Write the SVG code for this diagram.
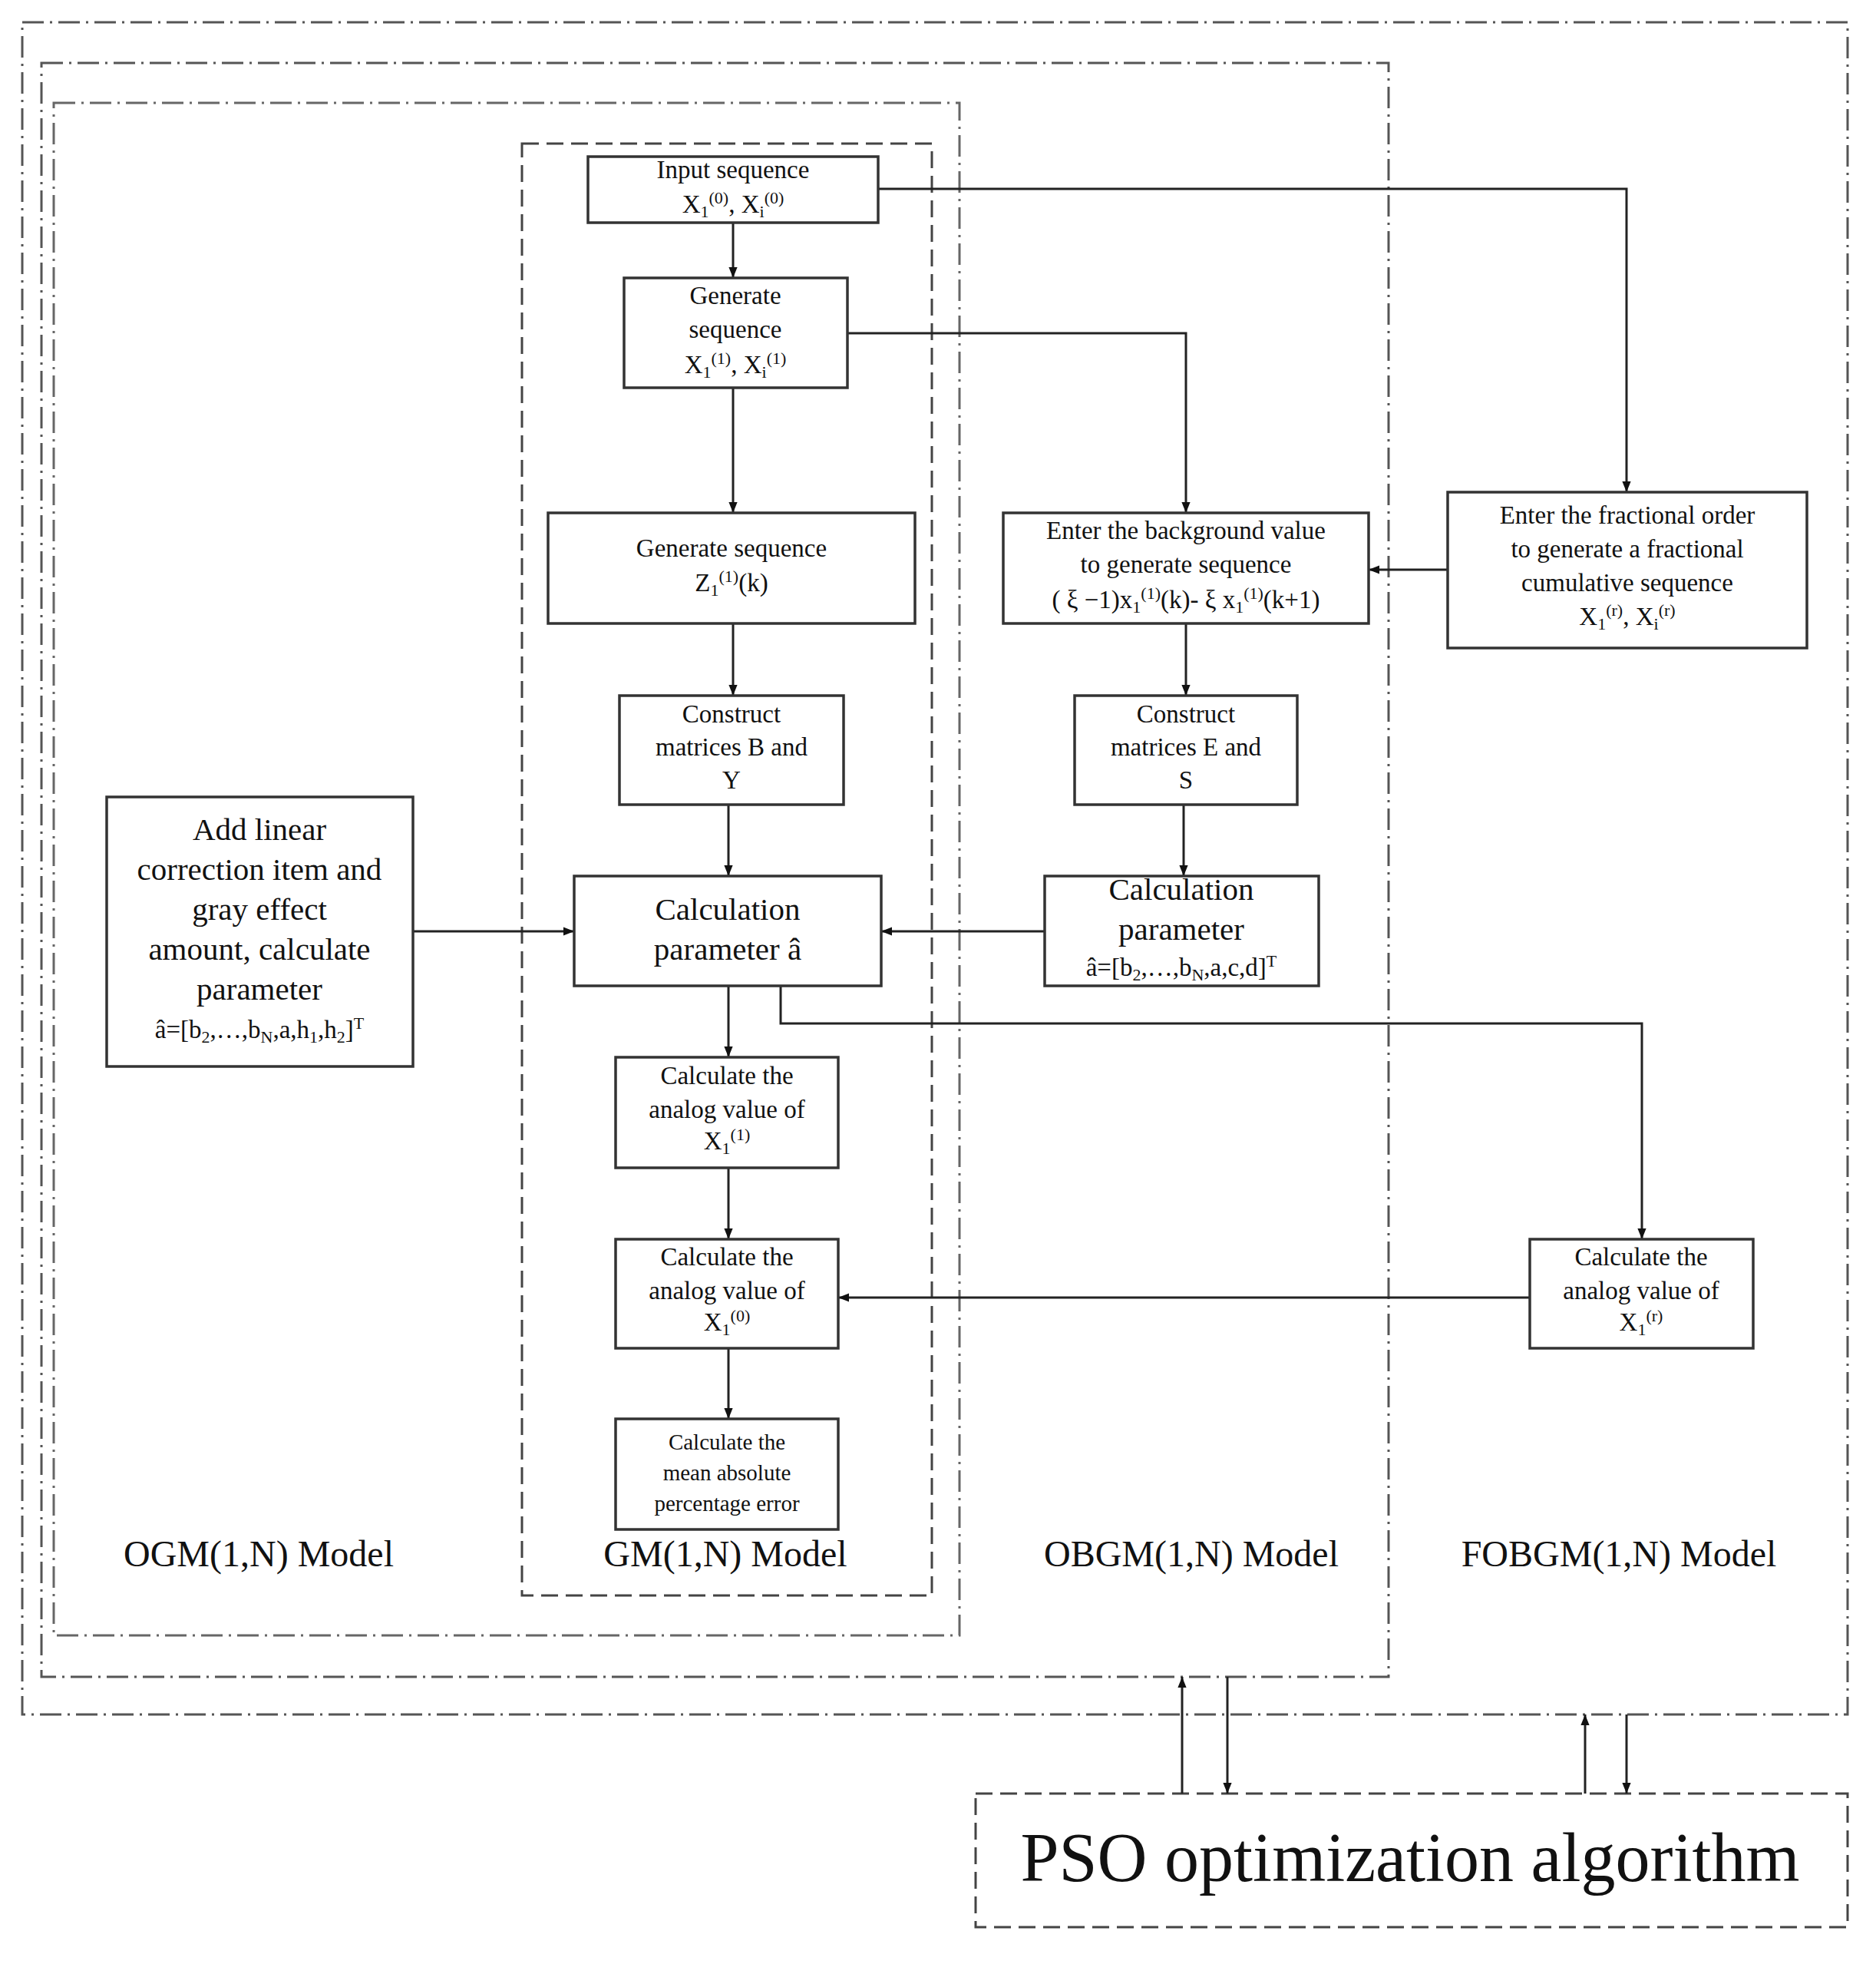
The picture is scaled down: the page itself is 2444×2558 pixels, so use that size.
<svg xmlns="http://www.w3.org/2000/svg" width="2444" height="2558" viewBox="0 0 2444 2558">
<style>
.n{fill:#fff;stroke:#333;stroke-width:3.5}
.t{font-family:"Liberation Serif",serif;font-size:33px;fill:#111;text-anchor:middle}
.b{font-size:41px}
.s{font-size:22px}
.f{fill:none;stroke-width:3}
.c{fill:none;stroke:#222;stroke-width:3}
.lab{font-family:"Liberation Serif",serif;font-size:48px;fill:#111;text-anchor:middle}
</style>
<defs><marker id="a" viewBox="0 0 10 10" refX="10" refY="5" markerWidth="7" markerHeight="7" markerUnits="userSpaceOnUse" orient="auto"><path d="M0,0L10,5L0,10z" fill="#111"/></marker>
<marker id="h" viewBox="0 0 10 10" refX="10" refY="5" markerWidth="14" markerHeight="14" orient="auto" markerUnits="userSpaceOnUse"><path d="M0,1L10,5L0,9z" fill="#111"/></marker></defs>
<g id="frames">
<rect x="29" y="29" width="2378" height="2204" class="f" stroke="#555" stroke-dasharray="28 8 3 8"/>
<rect x="54" y="82" width="1755" height="2102" class="f" stroke="#555" stroke-dasharray="28 8 3 8"/>
<rect x="70" y="134" width="1180" height="1996" class="f" stroke="#666" stroke-dasharray="28 8 3 8"/>
<rect x="680" y="187" width="534" height="1891" class="f" stroke="#444" stroke-dasharray="22 10"/>
<rect x="1271" y="2336" width="1136" height="174" class="f" stroke="#444" stroke-dasharray="22 10"/>
</g>
<g id="labels">
<text class="lab" x="337" y="2040">OGM(1,N) Model</text>
<text class="lab" x="945" y="2040">GM(1,N) Model</text>
<text class="lab" x="1552" y="2040">OBGM(1,N) Model</text>
<text class="lab" x="2109" y="2040">FOBGM(1,N) Model</text>
<text class="lab" x="1837" y="2450" style="font-size:90px">PSO optimization algorithm</text>
</g>
<g id="connectors">
<path class="c" d="M955,290V362" marker-end="url(#h)"/>
<path class="c" d="M955,505V668" marker-end="url(#h)"/>
<path class="c" d="M1144,246H2119V641" marker-end="url(#h)"/>
<path class="c" d="M1104,434H1545V668" marker-end="url(#h)"/>
<path class="c" d="M1886,742H1783" marker-end="url(#h)"/>
<path class="c" d="M1545,812V906" marker-end="url(#h)"/>
<path class="c" d="M1542,1048V1141" marker-end="url(#h)"/>
<path class="c" d="M1361,1213H1148" marker-end="url(#h)"/>
<path class="c" d="M538,1213H748" marker-end="url(#h)"/>
<path class="c" d="M955,812V906" marker-end="url(#h)"/>
<path class="c" d="M949,1048V1141" marker-end="url(#h)"/>
<path class="c" d="M949,1284V1377" marker-end="url(#h)"/>
<path class="c" d="M1017,1284V1333H2139V1614" marker-end="url(#h)"/>
<path class="c" d="M1993,1690H1092" marker-end="url(#h)"/>
<path class="c" d="M949,1521V1614" marker-end="url(#h)"/>
<path class="c" d="M949,1756V1848" marker-end="url(#h)"/>
<path class="c" d="M1540,2336V2184" marker-end="url(#h)"/>
<path class="c" d="M1599,2184V2336" marker-end="url(#h)"/>
<path class="c" d="M2065,2336V2233" marker-end="url(#h)"/>
<path class="c" d="M2119,2233V2336" marker-end="url(#h)"/>
</g>
<g id="input"><rect class="n" x="766" y="204" width="378" height="86"/>
<text class="t" x="955" y="232">Input sequence</text>
<text class="t" x="955" y="277">X<tspan class="s" dy="6">1</tspan><tspan class="s" dy="-18">(0)</tspan><tspan dy="12">, X</tspan><tspan class="s" dy="6">i</tspan><tspan class="s" dy="-18">(0)</tspan></text></g>
<g id="gen1"><rect class="n" x="813" y="362" width="291" height="143"/>
<text class="t" x="958" y="396">Generate</text><text class="t" x="958" y="440">sequence</text>
<text class="t" x="958" y="486">X<tspan class="s" dy="6">1</tspan><tspan class="s" dy="-18">(1)</tspan><tspan dy="12">, X</tspan><tspan class="s" dy="6">i</tspan><tspan class="s" dy="-18">(1)</tspan></text></g>
<g id="genz"><rect class="n" x="714" y="668" width="478" height="144"/>
<text class="t" x="953" y="725">Generate sequence</text>
<text class="t" x="953" y="770">Z<tspan class="s" dy="6">1</tspan><tspan class="s" dy="-18">(1)</tspan><tspan dy="12">(k)</tspan></text></g>
<g id="consb"><rect class="n" x="807" y="906" width="292" height="142"/>
<text class="t" x="953" y="941">Construct</text><text class="t" x="953" y="984">matrices B and</text><text class="t" x="953" y="1027">Y</text></g>
<g id="calca"><rect class="n" x="748" y="1141" width="400" height="143"/>
<text class="t b" x="948" y="1198">Calculation</text><text class="t b" x="948" y="1250">parameter â</text></g>
<g id="calc1"><rect class="n" x="802" y="1377" width="290" height="144"/>
<text class="t" x="947" y="1412">Calculate the</text><text class="t" x="947" y="1456">analog value of</text>
<text class="t" x="947" y="1497">X<tspan class="s" dy="6">1</tspan><tspan class="s" dy="-18">(1)</tspan></text></g>
<g id="calc0"><rect class="n" x="802" y="1614" width="290" height="142"/>
<text class="t" x="947" y="1648">Calculate the</text><text class="t" x="947" y="1692">analog value of</text>
<text class="t" x="947" y="1733">X<tspan class="s" dy="6">1</tspan><tspan class="s" dy="-18">(0)</tspan></text></g>
<g id="mape"><rect class="n" x="802" y="1848" width="290" height="144"/>
<text class="t" x="947" y="1888" style="font-size:29px">Calculate the</text><text class="t" x="947" y="1928" style="font-size:29px">mean absolute</text><text class="t" x="947" y="1968" style="font-size:29px">percentage error</text></g>
<g id="addlin"><rect class="n" x="139" y="1038" width="399" height="351"/>
<text class="t b" x="338" y="1094">Add linear</text><text class="t b" x="338" y="1146">correction item and</text>
<text class="t b" x="338" y="1198">gray effect</text><text class="t b" x="338" y="1250">amount, calculate</text><text class="t b" x="338" y="1302">parameter</text>
<text class="t" x="338" y="1352">â=[b<tspan class="s" dy="6">2</tspan><tspan dy="-6">,…,b</tspan><tspan class="s" dy="6">N</tspan><tspan dy="-6">,a,h</tspan><tspan class="s" dy="6">1</tspan><tspan dy="-6">,h</tspan><tspan class="s" dy="6">2</tspan><tspan dy="-6">]</tspan><tspan class="s" dy="-12">T</tspan></text></g>
<g id="bg"><rect class="n" x="1307" y="668" width="476" height="144"/>
<text class="t" x="1545" y="702">Enter the background value</text><text class="t" x="1545" y="746">to generate sequence</text>
<text class="t" x="1545" y="792">( ξ −1)x<tspan class="s" dy="6">1</tspan><tspan class="s" dy="-18">(1)</tspan><tspan dy="12">(k)- ξ x</tspan><tspan class="s" dy="6">1</tspan><tspan class="s" dy="-18">(1)</tspan><tspan dy="12">(k+1)</tspan></text></g>
<g id="conse"><rect class="n" x="1400" y="906" width="290" height="142"/>
<text class="t" x="1545" y="941">Construct</text><text class="t" x="1545" y="984">matrices E and</text><text class="t" x="1545" y="1027">S</text></g>
<g id="calcob"><rect class="n" x="1361" y="1141" width="357" height="143"/>
<text class="t b" x="1539" y="1172">Calculation</text><text class="t b" x="1539" y="1224">parameter</text>
<text class="t" x="1539" y="1271">â=[b<tspan class="s" dy="6">2</tspan><tspan dy="-6">,…,b</tspan><tspan class="s" dy="6">N</tspan><tspan dy="-6">,a,c,d]</tspan><tspan class="s" dy="-12">T</tspan></text></g>
<g id="frac"><rect class="n" x="1886" y="641" width="468" height="203"/>
<text class="t" x="2120" y="682">Enter the fractional order</text><text class="t" x="2120" y="726">to generate a fractional</text>
<text class="t" x="2120" y="770">cumulative sequence</text>
<text class="t" x="2120" y="814">X<tspan class="s" dy="6">1</tspan><tspan class="s" dy="-18">(r)</tspan><tspan dy="12">, X</tspan><tspan class="s" dy="6">i</tspan><tspan class="s" dy="-18">(r)</tspan></text></g>
<g id="calcr"><rect class="n" x="1993" y="1614" width="291" height="142"/>
<text class="t" x="2138" y="1648">Calculate the</text><text class="t" x="2138" y="1692">analog value of</text>
<text class="t" x="2138" y="1733">X<tspan class="s" dy="6">1</tspan><tspan class="s" dy="-18">(r)</tspan></text></g>
</svg>
